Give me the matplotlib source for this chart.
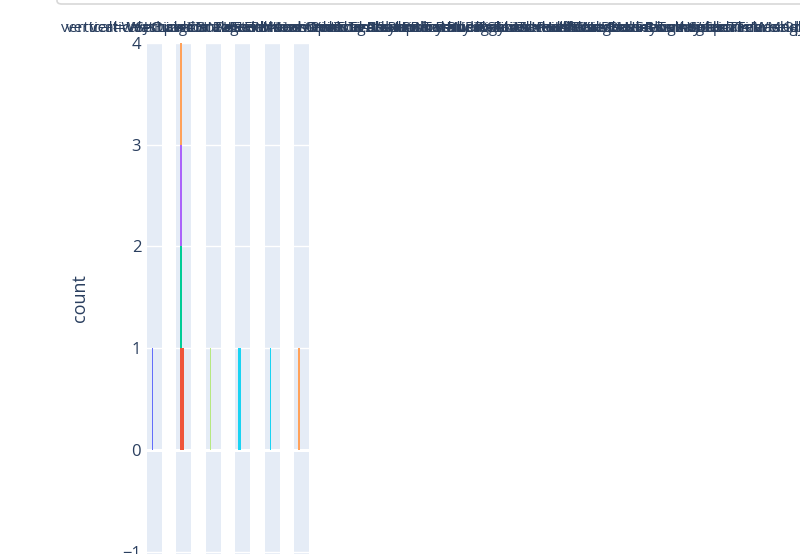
import matplotlib
matplotlib.use("Agg")
import matplotlib.pyplot as plt
from matplotlib.patches import FancyBboxPatch

plt.rcParams['font.family'] = ['Open Sans', 'DejaVu Sans']

# facet titles (they overlap like in the original)
facet_titles = [
    "vertical=WSJ Opinion Page",
    "vertical=Washington Post Politics",
    "vertical=Guardian US Environment",
    "vertical=CNN Health and Science",
    "vertical=BuzzFeed News Investigations",
    "vertical=Fox News Opinion Columns",
    "vertical=New York Times Upshot",
    "vertical=Politico Playbook Daily",
    "vertical=The Atlantic Technology",
    "vertical=Vox Policy and Politics",
    "vertical=Reuters Business Markets",
    "vertical=Bloomberg Economics Wire",
    "vertical=NPR Shots Health News",
    "vertical=Axios Pro Rata Deals",
    "vertical=The Hill Congress Blog",
    "vertical=HuffPost Entertainment",
    "vertical=Slate Moneybox Column",
    "vertical=Business Insider Tech",
    "vertical=USA Today Sports Weekly",
    "vertical=Los Angeles Times Opinion",
    "vertical=Wired Gear and Security",
    "vertical=Time Magazine Ideas",
    "vertical=Mashable Culture Desk",
]

# histogram traces per facet (stacked in this order)
bar_x = [[5.6], [5.7, 5.2, 5.2, 5.2], [5.0], [4.5], [6.0], [5.2]]
bar_counts = [[1], [1, 1, 1, 1], [1], [1], [1], [1]]
bar_widths = [[1.0], [4.5, 1.8, 1.8, 1.8], [1.0], [2.5], [1.5], [1.7]]
bar_colors = [["#636EFA"],
              ["#EF553B", "#00CC96", "#AB63FA", "#FFA15A"],
              ["#B6E880"],
              ["#19D3F3"],
              ["#19D3F3"],
              ["#FFA15A"]]

y_ticks = [-1, 0, 1, 2, 3, 4]

fig = plt.figure(figsize=(8, 5.54), dpi=100)
W, H = 800.0, 554.0

# grey widget box edge at the top
box = FancyBboxPatch((57 / W, 1 - 4 / H), 1.0, 0.05, boxstyle="round,pad=0,rounding_size=0.006",
                     transform=fig.transFigure, facecolor="white", edgecolor="#d8d8d8",
                     linewidth=1.2, clip_on=False)
fig.patches.append(box)

left0, pitch, pw = 146.7, 29.45, 15.0
top = 1 - 42.7 / H

for i in range(len(bar_x)):
    ax = fig.add_axes([(left0 + i * pitch) / W, 0, pw / W, top])
    ax.set_facecolor("#E5ECF6")
    for s in ax.spines.values():
        s.set_visible(False)
    ax.set_xlim(0, 15)
    ax.set_ylim(-1.02, 4)
    ax.set_xticks([])
    ax.set_yticks(y_ticks)
    ax.grid(axis="y", color="white", linewidth=1)
    ax.set_axisbelow(True)
    ax.axhline(0, color="white", linewidth=2.2, zorder=1)
    bottom = 0
    for x, c, w, col in zip(bar_x[i], bar_counts[i], bar_widths[i], bar_colors[i]):
        ax.bar(x, c, width=w, bottom=bottom, color=col, zorder=3, linewidth=0)
        bottom += c
    ax.tick_params(length=0, pad=4, labelsize=12, labelcolor="#2a3f5f")
    if i == 0:
        ax.set_ylabel("count", fontsize=13, color="#2a3f5f", labelpad=24)
    else:
        ax.set_yticklabels([])

for i, t in enumerate(facet_titles):
    cx = (left0 + i * pitch + pw / 2) / W
    fig.text(cx, 1 - 28 / H, t, ha="center", va="center",
             fontsize=11, color="#2a3f5f")

fig.savefig("out.png", dpi=100)
